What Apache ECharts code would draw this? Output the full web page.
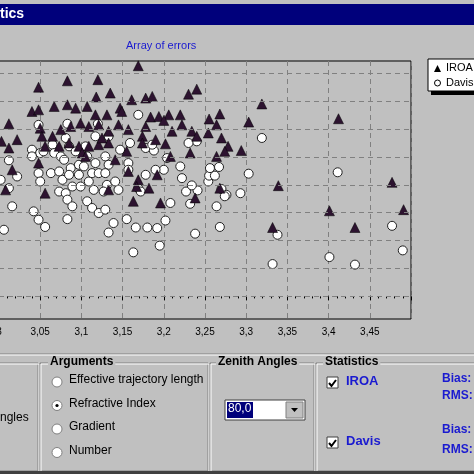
<!DOCTYPE html>
<html>
<head>
<meta charset="utf-8">
<script src="https://cdn.jsdelivr.net/npm/echarts@6/dist/echarts.min.js"></script>
<style>
  html, body { margin: 0; padding: 0; background: #c0c0c0; }
  #chart { width: 474px; height: 474px; }
</style>
</head>
<body>
<div id="chart"></div>
<script>
// IROA errors vs refractive index
const iroaPoints = [
  [3.169,8.27],[3.083,7.73],[3.120,7.77],[3.048,7.50],[3.118,7.15],[3.135,7.29],[3.230,7.25],[3.240,7.43],
  [3.178,7.11],[3.186,7.17],[3.319,6.90],[3.412,6.37],[3.040,6.63],[3.048,6.69],[3.067,6.81],[3.083,6.87],
  [3.093,6.75],[3.107,6.81],[3.117,6.51],[3.131,6.51],[3.147,6.75],[3.149,6.63],[3.161,7.05],[3.184,6.43],
  [3.194,6.45],[3.206,6.51],[3.220,6.51],[3.222,6.15],[3.255,6.36],[3.268,6.54],[3.264,6.15],[3.303,6.25],
  [3.012,6.19],[3.003,5.56],[3.012,5.32],[3.022,5.62],[3.050,6.03],[3.052,5.74],[3.065,5.74],[3.075,5.98],
  [3.087,6.09],[3.099,6.21],[3.109,6.09],[3.121,6.15],[3.133,5.92],[3.145,6.15],[3.157,5.98],[3.174,5.74],
  [3.178,6.09],[3.200,6.31],[3.210,5.92],[3.234,5.92],[3.240,5.74],[3.254,5.86],[3.270,5.68],[3.278,5.38],
  [3.274,5.20],[3.294,5.23],[3.264,5.02],[3.232,5.14],[3.202,5.47],[3.190,5.62],[3.174,5.50],[3.133,5.50],
  [3.121,5.44],[3.109,5.38],[3.097,5.38],[3.085,5.50],[3.101,5.14],[3.105,5.02],[3.073,5.38],[3.056,5.38],
  [3.048,4.78],[3.016,4.54],[3.208,5.02],[3.157,4.48],[3.169,4.18],[3.182,3.88],[3.192,4.36],[3.167,3.94],
  [3.163,3.41],[3.196,3.35],[3.056,3.70],[3.008,3.82],[3.133,3.82],[3.238,3.53],[3.339,3.97],[3.477,4.09],
  [3.401,3.07],[3.491,3.11],[3.432,2.47],[3.332,2.47],[3.268,3.88],[3.141,4.90],[3.125,5.68],[3.155,5.20]
];
// Davis errors vs refractive index
const davisPoints = [
  [3.169,6.51],[3.048,6.15],[3.083,6.19],[3.120,6.19],[3.040,5.26],[3.050,5.14],[3.054,5.20],[3.065,5.44],
  [3.067,5.14],[3.075,5.02],[3.081,5.68],[3.085,5.38],[3.079,4.90],[3.087,4.60],[3.097,4.72],[3.093,5.20],
  [3.105,5.38],[3.107,5.02],[3.117,5.74],[3.117,4.78],[3.129,5.02],[3.133,5.74],[3.133,4.72],[3.147,5.26],
  [3.159,5.50],[3.178,5.32],[3.188,5.23],[3.186,5.44],[3.157,4.78],[3.157,4.54],[3.204,4.96],[3.200,4.54],
  [3.220,4.66],[3.222,4.24],[3.190,4.54],[3.012,4.88],[3.002,4.18],[3.012,3.88],[3.022,4.30],[3.048,4.42],
  [3.050,4.12],[3.063,4.42],[3.073,4.48],[3.077,4.18],[3.085,4.36],[3.089,3.94],[3.099,3.94],[3.109,4.12],
  [3.113,4.42],[3.121,4.42],[3.129,4.42],[3.131,4.00],[3.141,4.12],[3.145,3.82],[3.127,3.76],[3.115,3.82],
  [3.073,3.76],[3.081,3.70],[3.083,3.47],[3.089,3.23],[3.107,3.41],[3.113,3.17],[3.121,2.99],[3.129,3.11],
  [3.139,2.63],[3.133,2.29],[3.155,2.77],[3.166,2.47],[3.180,2.47],[3.192,2.45],[3.202,2.72],[3.195,1.82],
  [3.163,1.58],[3.083,2.77],[3.056,2.49],[3.048,2.75],[3.042,3.05],[3.016,3.23],[3.006,2.39],[3.208,3.35],
  [3.232,3.32],[3.238,2.25],[3.227,3.76],[3.241,3.80],[3.234,3.98],[3.254,4.12],[3.255,4.33],[3.262,4.33],
  [3.267,4.64],[3.256,4.60],[3.270,3.85],[3.276,3.64],[3.274,3.59],[3.293,3.70],[3.303,4.40],[3.264,3.23],
  [3.268,2.49],[3.319,5.68],[3.411,4.45],[3.332,1.16],[3.338,2.21],[3.401,1.41],[3.432,1.14],[3.477,2.53],
  [3.490,1.65],[3.240,5.56],[3.230,5.50],[3.178,4.36],[3.169,3.88],[3.172,3.76],[3.103,4.66],[3.097,4.36],
  [3.040,5.02]
];
const yGridLevels = [0, 1, 2, 3, 4, 5, 6, 7, 8];
const argumentLabels = ['Effective trajectory length', 'Refractive Index', 'Gradient', 'Number'];

const chart = echarts.init(document.getElementById('chart'));
const font = 'Arial, "Liberation Sans", sans-serif';
const blue = '#1a1ad0';

// window chrome, legend and the controls panel
const g = [];
g.push({ type: 'rect', shape: { x: 0, y: 4, width: 474, height: 21 }, style: { fill: '#00007b' } });
g.push({ type: 'text', left: 0, top: 7, style: { text: 'tics', fill: '#fff', font: 'bold 14px ' + font } });
g.push({ type: 'text', left: 126, top: 40, style: { text: 'Array of errors', fill: blue, font: '11px ' + font } });
// legend box
g.push({ type: 'rect', shape: { x: 431, y: 62, width: 50, height: 33 }, style: { fill: '#000' } });
g.push({ type: 'rect', shape: { x: 428, y: 59, width: 50, height: 32 }, style: { fill: '#fff', stroke: '#000', lineWidth: 1 } });
g.push({ type: 'polygon', shape: { points: [[434, 72], [441, 72], [437.5, 65]] }, style: { fill: '#000' } });
g.push({ type: 'text', left: 446, top: 62, style: { text: 'IROA', fill: '#000', font: '11px ' + font } });
g.push({ type: 'circle', shape: { cx: 437.5, cy: 83, r: 3 }, style: { fill: '#fff', stroke: '#000' } });
g.push({ type: 'text', left: 446, top: 77, style: { text: 'Davis', fill: '#000', font: '11px ' + font } });
// panel
g.push({ type: 'line', shape: { x1: 0, y1: 354, x2: 474, y2: 354 }, style: { stroke: '#808080' } });
g.push({ type: 'line', shape: { x1: 0, y1: 355, x2: 474, y2: 355 }, style: { stroke: '#fff' } });
const boxes = [[-5, 43], [40, 168], [210, 104], [316, 170]];
boxes.forEach(function (b) {
  g.push({ type: 'rect', shape: { x: b[0], y: 363, width: b[1], height: 108 }, style: { fill: 'none', stroke: '#808080' } });
  g.push({ type: 'rect', shape: { x: b[0] + 1, y: 364, width: b[1], height: 108 }, style: { fill: 'none', stroke: '#fff' } });
});
g.push({ type: 'rect', shape: { x: 0, y: 471, width: 474, height: 3 }, style: { fill: '#404040' } });
g.push({ type: 'text', left: 0, top: 412, style: { text: 'ngles', fill: '#000', font: '12px ' + font } });
g.push({ type: 'text', left: 48, top: 356, style: { text: 'Arguments', fill: '#000', font: 'bold 12px ' + font, backgroundColor: '#c0c0c0', padding: [0, 2] } });
argumentLabels.forEach(function (t, i) {
  const cy = 382 + i * 23.5;
  g.push({ type: 'circle', shape: { cx: 57, cy: cy, r: 5 }, style: { fill: '#fff', stroke: '#808080' } });
  if (i === 1) g.push({ type: 'circle', shape: { cx: 57, cy: cy, r: 1.6 }, style: { fill: '#000' } });
  g.push({ type: 'text', left: 69, top: cy - 8, style: { text: t, fill: '#000', font: '12px ' + font } });
});
g.push({ type: 'text', left: 216, top: 356, style: { text: 'Zenith Angles', fill: '#000', font: 'bold 12px ' + font, backgroundColor: '#c0c0c0', padding: [0, 2] } });
g.push({ type: 'rect', shape: { x: 225, y: 400, width: 80, height: 20 }, style: { fill: '#fff', stroke: '#404040' } });
g.push({ type: 'rect', shape: { x: 227, y: 402, width: 26, height: 16 }, style: { fill: '#00007b' } });
g.push({ type: 'text', left: 228, top: 403, style: { text: '80,0', fill: '#fff', font: '12px ' + font } });
g.push({ type: 'rect', shape: { x: 286, y: 402, width: 17, height: 16 }, style: { fill: '#c0c0c0', stroke: '#808080' } });
g.push({ type: 'polygon', shape: { points: [[291, 408], [298, 408], [294.5, 412]] }, style: { fill: '#000' } });
g.push({ type: 'text', left: 323, top: 356, style: { text: 'Statistics', fill: '#000', font: 'bold 12px ' + font, backgroundColor: '#c0c0c0', padding: [0, 2] } });
[[383, 'IROA'], [443, 'Davis']].forEach(function (r) {
  g.push({ type: 'rect', shape: { x: 327, y: r[0] - 6, width: 11, height: 11 }, style: { fill: '#fff', stroke: '#404040' } });
  g.push({ type: 'polyline', shape: { points: [[329, r[0]], [331.5, r[0] + 3], [336, r[0] - 3]] }, style: { stroke: '#000', lineWidth: 2, fill: 'none' } });
  g.push({ type: 'text', left: 346, top: r[0] - 8, style: { text: r[1], fill: blue, font: 'bold 13px ' + font } });
});
[[373, 'Bias:'], [390, 'RMS:'], [424, 'Bias:'], [444, 'RMS:']].forEach(function (r) {
  g.push({ type: 'text', left: 442, top: r[0], style: { text: r[1], fill: blue, font: 'bold 12px ' + font } });
});

chart.setOption({
  backgroundColor: '#c0c0c0',
  animation: false,
  grid: { left: -1, top: 61, width: 412, height: 258, show: true, borderColor: '#000', borderWidth: 1, outerBoundsMode: 'none' },
  xAxis: {
    type: 'value', min: 3.0, max: 3.5, interval: 0.05,
    axisLine: { show: false },
    axisTick: { show: true, length: 4, lineStyle: { color: '#000' } },
    minorTick: { show: true, splitNumber: 5, length: 2, lineStyle: { color: '#000' } },
    splitLine: { show: true, lineStyle: { color: '#808080', type: [5, 4] } },
    axisLabel: {
      color: '#000', fontSize: 10, fontFamily: font, margin: 8, hideOverlap: false,
      formatter: function (v) { return v >= 3.499 ? '' : String(+v.toFixed(2)).replace('.', ','); }
    }
  },
  yAxis: {
    type: 'value', min: -0.81, max: 8.44,
    axisLine: { show: false }, axisTick: { show: false }, axisLabel: { show: false }, splitLine: { show: false }
  },
  graphic: g,
  series: [
    {
      name: 'grid', type: 'line', data: [], silent: true,
      markLine: {
        symbol: 'none', silent: true, label: { show: false },
        lineStyle: { color: '#808080', type: [5, 4], width: 1 },
        data: yGridLevels.map(function (v) { return { yAxis: v }; })
      }
    },
    {
      name: 'Davis', type: 'scatter', symbol: 'circle', symbolSize: 9, data: davisPoints,
      itemStyle: { color: '#fff', borderColor: '#222', borderWidth: 1, opacity: 1 }
    },
    {
      name: 'IROA', type: 'scatter', symbol: 'triangle', symbolSize: 10, data: iroaPoints,
      itemStyle: { color: '#2d1330', borderColor: '#000', borderWidth: 0.5, opacity: 1 }
    }
  ]
});
</script>
</body>
</html>
